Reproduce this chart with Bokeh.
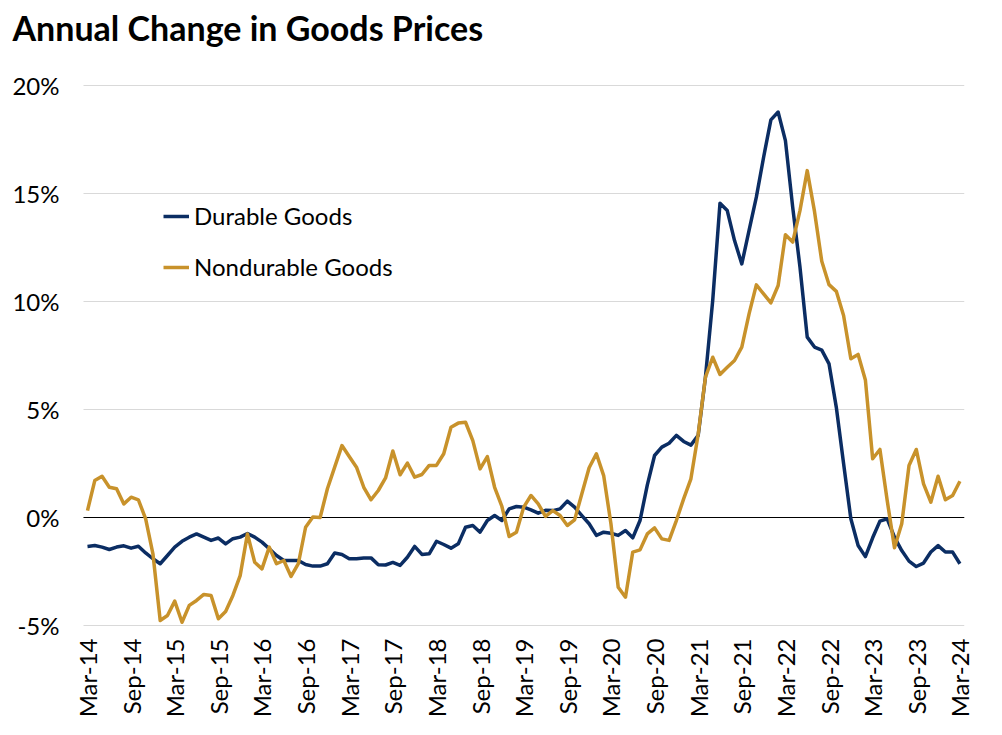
import math
from bokeh.plotting import figure
from bokeh.models import (Legend, LegendItem, FixedTicker, Range1d, Label)
from bokeh.core.properties import value
from bokeh.embed import file_html
from bokeh.resources import INLINE

# Monthly annual % change, Mar-2014 .. Mar-2024
durable = [
    -1.34, -1.30, -1.37, -1.48, -1.37, -1.31, -1.42, -1.33, -1.64, -1.91,
    -2.14, -1.76, -1.37, -1.10, -0.91, -0.76, -0.91, -1.06, -0.95, -1.22,
    -0.98, -0.91, -0.74, -0.91, -1.14, -1.45, -1.76, -1.99, -1.99, -1.99,
    -2.18, -2.25, -2.25, -2.14, -1.64, -1.71, -1.91, -1.91, -1.87, -1.87,
    -2.19, -2.20, -2.08, -2.22, -1.84, -1.34, -1.71, -1.68, -1.10, -1.25,
    -1.42, -1.22, -0.45, -0.37, -0.68, -0.14, 0.09, -0.14, 0.40, 0.51,
    0.48, 0.35, 0.20, 0.33, 0.32, 0.40, 0.76, 0.48, 0.09, -0.29,
    -0.83, -0.68, -0.73, -0.83, -0.60, -0.94, -0.14, 1.50, 2.87, 3.26,
    3.44, 3.80, 3.52, 3.35, 3.80, 6.50, 10.05, 14.55, 14.21, 12.82,
    11.74, 13.29, 14.83, 16.68, 18.41, 18.77, 17.45, 14.37, 11.60, 8.35,
    7.89, 7.75, 7.11, 5.10, 2.50, -0.06, -1.30, -1.81, -0.94, -0.17,
    -0.06, -0.91, -1.53, -2.02, -2.27, -2.11, -1.60, -1.30, -1.60, -1.60,
    -2.14,
]
nondurable = [
    0.32, 1.71, 1.91, 1.40, 1.33, 0.63, 0.94, 0.82, -0.06, -1.68,
    -4.77, -4.54, -3.87, -4.85, -4.07, -3.84, -3.56, -3.61, -4.69, -4.35,
    -3.61, -2.69, -0.76, -2.07, -2.38, -1.37, -2.14, -1.99, -2.73, -2.14,
    -0.45, 0.02, 0.00, 1.33, 2.33, 3.33, 2.82, 2.33, 1.40, 0.82,
    1.25, 1.83, 3.08, 1.98, 2.52, 1.87, 1.99, 2.41, 2.41, 2.95,
    4.18, 4.37, 4.41, 3.56, 2.25, 2.82, 1.40, 0.51, -0.88, -0.68,
    0.48, 1.02, 0.63, 0.05, 0.32, 0.09, -0.37, -0.11, 1.10, 2.30,
    2.95, 1.94, -0.29, -3.23, -3.69, -1.60, -1.50, -0.76, -0.48, -0.99,
    -1.06, -0.14, 0.86, 1.79, 3.85, 6.50, 7.42, 6.62, 6.96, 7.27,
    7.89, 9.43, 10.77, 10.35, 9.94, 10.74, 13.09, 12.75, 14.21, 16.06,
    14.17, 11.86, 10.78, 10.47, 9.35, 7.35, 7.55, 6.37, 2.72, 3.15,
    0.79, -1.40, -0.29, 2.41, 3.15, 1.56, 0.71, 1.91, 0.82, 1.02,
    1.68,
]
tick_labels = ["Mar-14", "Sep-14", "Mar-15", "Sep-15", "Mar-16", "Sep-16",
               "Mar-17", "Sep-17", "Mar-18", "Sep-18", "Mar-19", "Sep-19",
               "Mar-20", "Sep-20", "Mar-21", "Sep-21", "Mar-22", "Sep-22",
               "Mar-23", "Sep-23", "Mar-24"]
y_ticks = [-5, 0, 5, 10, 15, 20]
y_tick_labels = ["-5%", "0%", "5%", "10%", "15%", "20%"]
title_text = "Annual Change in Goods Prices"

months = list(range(len(durable)))
tick_pos = [6 * i for i in range(len(tick_labels))]

FONT = "Lato"
NAVY = "#0B2D63"
GOLD = "#C8922B"

# ---- layout geometry (pixels) ----
FRAME_RIGHT = 964          # frame spans x = 0 .. 964, y = 0 .. 637
FRAME_BOTTOM = 637
FIRST_PT = 87              # pixel column of the first month
PX_PER_MONTH = 7.27
PX_PER_UNIT = 540 / 25.0   # -5..20 maps to rows 625..85
x_start = -FIRST_PT / PX_PER_MONTH
x_end = (FRAME_RIGHT - FIRST_PT) / PX_PER_MONTH
y_top = 20 + 85 / PX_PER_UNIT
y_bottom = -5 - (FRAME_BOTTOM - 625) / PX_PER_UNIT
grid_x0 = (83 - FIRST_PT) / PX_PER_MONTH
ylab_x = (59 - FIRST_PT) / PX_PER_MONTH

p = figure(width=1002, height=735, output_backend="svg", toolbar_location=None,
           title=None, y_axis_location=None,
           x_range=Range1d(x_start, x_end), y_range=Range1d(y_bottom, y_top),
           min_border_left=0, min_border_right=1002 - FRAME_RIGHT, min_border_top=0,
           min_border_bottom=735 - FRAME_BOTTOM)
p.outline_line_color = None
p.background_fill_color = "white"
p.border_fill_color = "white"
p.xgrid.grid_line_color = None
p.ygrid.grid_line_color = None

# horizontal gridlines and zero line
p.segment(x0=[grid_x0] * len(y_ticks), x1=[x_end] * len(y_ticks),
          y0=y_ticks, y1=y_ticks, line_color="#d9d9d9", line_width=1)
p.segment(x0=[grid_x0], x1=[x_end], y0=[0], y1=[0], line_color="black", line_width=1)

# y tick labels
p.text(x=[ylab_x] * len(y_ticks), y=y_ticks, text=y_tick_labels,
       text_font=value(FONT), text_font_size="24px", text_color="#000000",
       text_align="right", text_baseline="middle")

r1 = p.line(months, durable, line_color=NAVY, line_width=3.5, line_join="round")
r2 = p.line(months, nondurable, line_color=GOLD, line_width=3.5, line_join="round")

# title, placed in screen units relative to the frame's bottom-left corner
p.add_layout(Label(x=12, y=610, x_units="screen", y_units="screen",
                   text=title_text, text_font=FONT, text_font_size="34px",
                   text_font_style="bold", text_color="#000000",
                   text_baseline="alphabetic", text_align="left"))

p.xaxis.ticker = FixedTicker(ticks=tick_pos)
p.xaxis.major_label_overrides = {t: lab for t, lab in zip(tick_pos, tick_labels)}
p.xaxis.major_label_orientation = math.pi / 2
p.xaxis.axis_line_color = None
p.xaxis.major_tick_line_color = None
p.xaxis.minor_tick_line_color = None
p.xaxis.major_tick_out = 0
p.xaxis.major_tick_in = 0
p.xaxis.major_label_text_font = FONT
p.xaxis.major_label_text_font_size = "24px"
p.xaxis.major_label_text_color = "#000000"
p.xaxis.major_label_standoff = 1

legend = Legend(items=[LegendItem(label="Durable Goods", renderers=[r1]),
                       LegendItem(label="Nondurable Goods", renderers=[r2])],
                location=(163, 356), orientation="vertical",
                label_text_font=FONT, label_text_font_size="24px",
                label_text_color="#000000", glyph_width=26, glyph_height=20,
                label_height=20, spacing=22, padding=0, margin=0,
                label_standoff=5,
                border_line_alpha=0, background_fill_alpha=0)
p.add_layout(legend)

open("out.html", "w").write(file_html(p, INLINE))
